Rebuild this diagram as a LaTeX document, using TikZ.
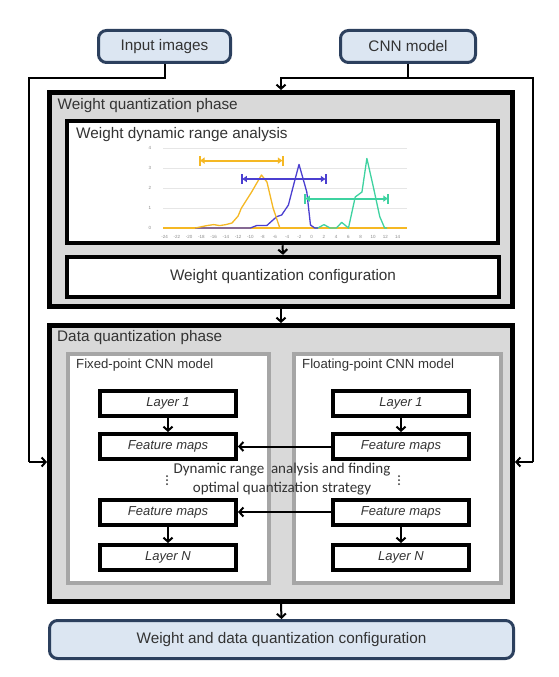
\documentclass[tikz,border=0pt]{standalone}
\usepackage{fontspec}
\setmainfont{Liberation Sans}
\newfontfamily\carlito{Carlito}
\usetikzlibrary{arrows.meta}
\definecolor{navy}{HTML}{2C405E}
\definecolor{lblue}{HTML}{DCE6F2}
\definecolor{phgray}{HTML}{D9D9D9}
\definecolor{bgray}{HTML}{A6A6A6}
\definecolor{txt}{HTML}{333333}
\definecolor{cyel}{HTML}{F5B824}
\definecolor{cblu}{HTML}{4B3FD0}
\definecolor{cteal}{HTML}{3ED2A0}
\definecolor{gridc}{HTML}{E6E6E6}
\definecolor{tickc}{HTML}{8A8A8A}
\tikzset{
  startbox/.style={draw=navy, line width=3pt, fill=lblue, rounded corners=8pt, inner sep=0pt, text=txt, font=\fontsize{15.3}{18}\selectfont},
  phasebox/.style={draw=black, line width=5pt, fill=phgray, inner sep=0pt},
  wbox/.style={draw=black, line width=4.5pt, fill=white, inner sep=0pt, text=txt, font=\fontsize{15.3}{18}\selectfont},
  modelbox/.style={draw=bgray, line width=4.5pt, fill=white, inner sep=0pt},
  layerbox/.style={draw=black, line width=4pt, fill=white, inner sep=0pt, text=txt, font=\fontsize{13}{15}\selectfont\itshape, minimum width=136pt, minimum height=25pt},
  ttl/.style={anchor=west, inner sep=0pt, text=txt, font=\fontsize{15.3}{18}\selectfont},
  sttl/.style={anchor=west, inner sep=0pt, text=txt, font=\fontsize{13.2}{15}\selectfont},
  conn/.style={line width=2pt, draw=black},
  arr/.style={conn, -{Straight Barb[length=4pt,width=9pt,line width=2pt]}},
  ticklab/.style={inner sep=0pt, text=tickc, font=\fontsize{4.5}{5}\selectfont},
  curve/.style={line width=1.3pt, line join=round},
  rangebar/.style={line width=1.8pt, {Latex[length=5pt,width=7pt]}-{Latex[length=5pt,width=7pt]}},
  capbar/.style={line width=2pt},
  vdot/.style={fill=txt, draw=none}
}
\begin{document}
\begin{tikzpicture}[x=1pt,y=-1pt]
\useasboundingbox (0,0) rectangle (558,677);
% top inputs
\node[startbox, minimum width=132pt, minimum height=32pt] (inp) at (164.5,46.5) {Input images};
\node[startbox, minimum width=135pt, minimum height=32pt] (cnn) at (408,46.5) {CNN model};
% weight quantization phase
\node[phasebox, minimum width=463pt, minimum height=214pt] (wqp) at (281,199.5) {};
\node[ttl] (wqpt) at (57.5,106) {Weight quantization phase};
\node[wbox, minimum width=431pt, minimum height=122pt] (wda) at (282.5,182) {};
\node[ttl] (wdat) at (76,135) {Weight dynamic range analysis};
\node[wbox, minimum width=432pt, minimum height=40pt] (wqc) at (283,277) {Weight quantization configuration};
% chart
\begin{scope}[shift={(311.7,228)}, x=6.13pt, y=20pt]
  \foreach \v in {1,2,3,4} \draw[gridc, line width=0.6pt] (-24.2,\v) -- (15.5,\v);
  \foreach \v in {0,...,4} \node[ticklab] at (-26.4,\v) {\v};
  \foreach \u in {-24,-22,...,14} \node[ticklab] at (\u,-0.45) {\u};
  \draw[cyel, curve] (-24.2,0) -- (15.5,0);
  \draw[cteal, curve] (0.5,0) -- (1,0) -- (2,0.17) -- (3,0) -- (4,0) -- (4.9,0.28) -- (6,0) -- (7.1,1.55) -- (8.2,1.8) -- (9,3.48) -- (10.05,2.06) -- (11.1,0.57) -- (11.9,0) -- (12.3,0);
  \draw[cblu, curve] (-19,0) -- (-10,0) -- (-9,0.12) -- (-7.3,0.13) -- (-5.7,0.57) -- (-4.9,0.65) -- (-3.8,1.15) -- (-3,2.1) -- (-2.07,3.18) -- (-0.8,1.8) -- (-0.2,0.15) -- (0.5,0) -- (1,0);
  \draw[cyel, curve] (-19,0) -- (-17.1,0.12) -- (-16,0.17) -- (-15,0.12) -- (-14,0.17) -- (-13,0.25) -- (-12,0.6) -- (-11.5,0.98) -- (-9.8,1.8) -- (-8.2,2.65) -- (-7.3,2.3) -- (-6.3,1.0) -- (-5.2,0);
  % range bars
  \draw[cyel, rangebar] (-18.3,3.37) -- (-4.7,3.37);
  \draw[cyel, capbar] (-18.3,3.12) -- (-18.3,3.62) (-4.7,3.12) -- (-4.7,3.62);
  \draw[cblu, rangebar] (-11.4,2.45) -- (2.3,2.45);
  \draw[cblu, capbar] (-11.4,2.2) -- (-11.4,2.7) (2.3,2.2) -- (2.3,2.7);
  \draw[cteal, rangebar] (-1.1,1.47) -- (12.5,1.47);
  \draw[cteal, capbar] (-1.1,1.22) -- (-1.1,1.72) (12.5,1.22) -- (12.5,1.72);
\end{scope}
% data quantization phase
\node[phasebox, minimum width=463pt, minimum height=276pt] (dqp) at (281,463.5) {};
\node[ttl] (dqpt) at (57,338) {Data quantization phase};
\node[modelbox, minimum width=201pt, minimum height=229pt] (fixed) at (168.5,468.5) {};
\node[sttl] (fixedt) at (76,365) {Fixed-point CNN model};
\node[modelbox, minimum width=207pt, minimum height=229pt] (float) at (397.5,468.5) {};
\node[sttl] (floatt) at (302,365) {Floating-point CNN model};
\node[layerbox] (l1a) at (168,403.5) {Layer 1};
\node[layerbox] (fma) at (168,446.5) {Feature maps};
\node[layerbox] (fmb) at (168,512) {Feature maps};
\node[layerbox] (lna) at (168,557.5) {Layer N};
\node[layerbox] (l1b) at (401,403.5) {Layer 1};
\node[layerbox] (fmc) at (401,446.5) {Feature maps};
\node[layerbox] (fmd) at (401,512) {Feature maps};
\node[layerbox] (lnb) at (401,557.5) {Layer N};
\node[inner sep=0pt, text=txt, align=center, font=\carlito\fontsize{15}{19}\selectfont] (dyn) at (282,479.5) {Dynamic range\ \ analysis and finding\\optimal quantization strategy};
% vertical ellipsis dots
\foreach \yy in {476,480,484} {
  \fill[vdot] (167,\yy) circle (1pt);
  \fill[vdot] (399,\yy) circle (1pt);
}
% output
\node[startbox, minimum width=464pt, minimum height=38pt] (out) at (281.5,639.5) {Weight and data quantization configuration};
% connectors
\coordinate (jL) at (29,78);
\coordinate (jL2) at (29,462);
\coordinate (jR) at (533,78);
\coordinate (jR2) at (533,462);
\draw[conn] (inp.south) |- (jL) -- (jL2);
\draw[arr] (jL2) -- (dqp.west |- jL2);
\draw[arr] (cnn.south) |- (wqp.north |- jL) -- (wqp.north);
\draw[conn] (cnn.south |- jR) -- (jR) -- (jR2);
\draw[arr] (jR2) -- (dqp.east |- jR2);
\draw[arr] (wda.south) -- (wqc.north);
\draw[arr] (wqp.south) -- (dqp.north);
\draw[arr] (dqp.south) -- (out.north);
\draw[arr] (l1a) -- (fma);
\draw[arr] (fmb) -- (lna);
\draw[arr] (l1b) -- (fmc);
\draw[arr] (fmd) -- (lnb);
\draw[arr] (fmc.west) -- (fma.east);
\draw[arr] (fmd.west) -- (fmb.east);
\end{tikzpicture}
\end{document}
